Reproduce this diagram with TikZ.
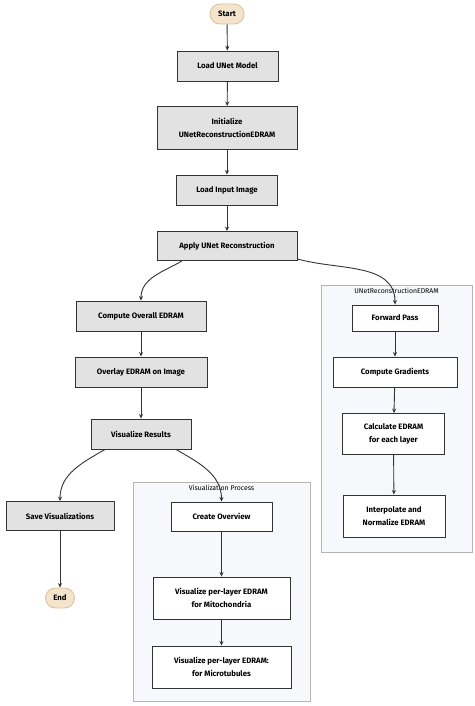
\documentclass[tikz,border=0pt]{standalone}
\usepackage{fontspec}
\setmainfont{Fira Sans}
\usepackage{tikz}
\usetikzlibrary{arrows.meta,positioning,fit,backgrounds,shapes}
\definecolor{stepgray}{HTML}{E2E2E2}
\definecolor{edgedark}{HTML}{333333}
\definecolor{termfill}{HTML}{F4E4CC}
\definecolor{termline}{HTML}{DCC39E}
\definecolor{clfill}{HTML}{F7F8FB}
\definecolor{clline}{HTML}{B4B4B4}
\tikzset{
  stepbox/.style={rectangle,draw=edgedark,fill=stepgray,line width=0.9pt,align=center,
    inner sep=0pt,font=\fontsize{7.8}{12.5}\selectfont\bfseries},
  subbox/.style={stepbox,fill=white},
  termnode/.style={rounded rectangle,draw=termline,fill=termfill,line width=0.9pt,
    inner sep=0pt,minimum height=20pt,font=\fontsize{7.8}{10}\selectfont\bfseries},
  clbox/.style={draw=clline,fill=clfill,line width=0.6pt,inner sep=0pt},
  cllabel/.style={font=\fontsize{6.9}{9}\selectfont,inner sep=1pt},
  flowedge/.style={-{Stealth[length=4.5pt,width=4pt]},line width=0.9pt,edgedark},
}

\begin{document}
\begin{tikzpicture}[x=1pt,y=-1pt]
  \useasboundingbox (0,0) rectangle (474,706);
  % main column
  \node[termnode,minimum width=34pt] (nStart) at (227,14) {Start};
  \node[stepbox,minimum width=101pt,minimum height=30pt] (nLoadModel) at (227.5,66) {Load UNet Model};
  \node[stepbox,minimum width=140pt,minimum height=43pt] (nInit) at (227,128) {Initialize\\UNetReconstructionEDRAM};
  \node[stepbox,minimum width=101pt,minimum height=30pt] (nLoadImg) at (227,190) {Load Input Image};
  \node[stepbox,minimum width=140pt,minimum height=29pt] (nApply) at (227,246) {Apply UNet Reconstruction};
  \node[stepbox,minimum width=130pt,minimum height=30pt] (nOverall) at (141,316) {Compute Overall EDRAM};
  \node[stepbox,minimum width=132pt,minimum height=30pt] (nOverlay) at (141,372) {Overlay EDRAM on Image};
  \node[stepbox,minimum width=100pt,minimum height=30pt] (nVis) at (141,434) {Visualize Results};
  \node[stepbox,minimum width=108pt,minimum height=29pt] (nSave) at (60,516) {Save Visualizations};
  \node[termnode,minimum width=29pt] (nEnd) at (60,598) {End};
  % UNetReconstructionEDRAM
  \node[subbox,minimum width=86pt,minimum height=26pt] (nFwd) at (395,318) {Forward Pass};
  \node[subbox,minimum width=124pt,minimum height=30pt] (nGrad) at (395,372) {Compute Gradients};
  \node[subbox,minimum width=102pt,minimum height=41pt] (nCalc) at (393.5,434) {Calculate EDRAM\\for each layer};
  \node[subbox,minimum width=102pt,minimum height=42pt] (nInterp) at (394,516) {Interpolate and\\Normalize EDRAM};
  % Visualization Process
  \node[subbox,minimum width=101pt,minimum height=29pt] (nOverview) at (221.5,516.5) {Create Overview};
  \node[subbox,minimum width=137pt,minimum height=42pt] (nMito) at (221.5,598) {Visualize per-layer EDRAM\\for Mitochondria};
  \node[subbox,minimum width=139pt,minimum height=42pt] (nMicro) at (221.5,667) {Visualize per-layer EDRAM:\\for Microtubules};
  \begin{scope}[on background layer]
    \coordinate (cRtl) at (321,285);
    \coordinate (cRbr) at (472,552);
    \node[clbox,fit=(cRtl)(cRbr)] (clEdram) {};
    \node[cllabel,anchor=north] at ([yshift=-2pt]clEdram.north) {UNetReconstructionEDRAM};
    \coordinate (cVtl) at (133,482);
    \coordinate (cVbr) at (310,701);
    \node[clbox,fit=(cVtl)(cVbr)] (clVis) {};
    \node[cllabel,anchor=north] at ([yshift=-2pt]clVis.north) {Visualization Process};
  \end{scope}
  \draw[flowedge] (nStart) -- (nLoadModel);
  \draw[flowedge] (nLoadModel) -- (nInit);
  \draw[flowedge] (nInit) -- (nLoadImg);
  \draw[flowedge] (nLoadImg) -- (nApply);
  \draw[flowedge] ([xshift=-45pt]nApply.south) to[out=-150,in=90] (nOverall.north);
  \draw[flowedge] ([yshift=2pt]nApply.south east) to[out=-16,in=90] (nFwd.north);
  \draw[flowedge] (nOverall) -- (nOverlay);
  \draw[flowedge] (nOverlay) -- (nVis);
  \draw[flowedge] ([xshift=-36pt]nVis.south) to[out=-150,in=90] (nSave.north);
  \draw[flowedge] ([xshift=35pt]nVis.south) to[out=-30,in=90] (nOverview.north);
  \draw[flowedge] (nSave) -- (nEnd);
  \draw[flowedge] (nFwd) -- (nGrad);
  \draw[flowedge] (nGrad) -- (nCalc);
  \draw[flowedge] (nCalc) -- (nInterp);
  \draw[flowedge] (nOverview) -- (nMito);
  \draw[flowedge] (nMito) -- (nMicro);
\end{tikzpicture}
\end{document}
